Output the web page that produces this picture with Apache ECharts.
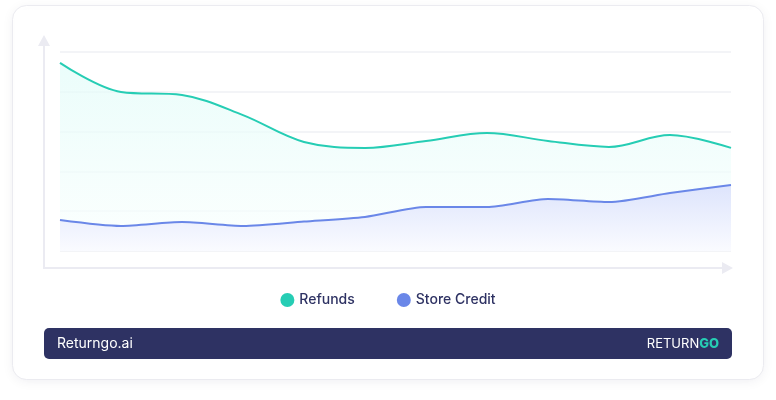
<!DOCTYPE html>
<html>
<head>
<meta charset="utf-8">
<script src="https://cdn.jsdelivr.net/npm/echarts@6/dist/echarts.min.js"></script>
<style>
html,body{margin:0;padding:0;background:#fff;}
#c{width:776px;height:400px;}
</style>
</head>
<body>
<div id="c"></div>
<script>
const categories = ['1','2','3','4','5','6','7','8','9','10','11','12'];
const refunds = [94.5, 79.9, 78.4, 68.3, 54.8, 51.8, 55.3, 59.3, 55.3, 52.3, 58.3, 51.8];
const storeCredit = [15.6, 12.6, 14.6, 12.6, 14.8, 17.1, 22.1, 22.1, 26.1, 24.6, 29.1, 33.2];
const seriesNames = ['Refunds', 'Store Credit'];

const chart = echarts.init(document.getElementById('c'), null, {renderer: 'canvas'});
const FONT = 'Inter, "Noto Sans", sans-serif';
const axisColor = '#ebebf2';

chart.setOption({
  animation: false,
  backgroundColor: '#fff',
  graphic: [
    {type: 'rect', z: -10, shape: {x: 12.5, y: 5.5, width: 751, height: 374, r: 14},
     style: {fill: '#fff', stroke: '#ebebf0', lineWidth: 1, shadowBlur: 12, shadowColor: 'rgba(20,20,60,0.06)', shadowOffsetY: 2}},
    {type: 'line', shape: {x1: 44, y1: 45, x2: 44, y2: 268}, style: {stroke: axisColor, lineWidth: 2}},
    {type: 'polygon', shape: {points: [[44, 35], [50, 46], [38, 46]]}, style: {fill: axisColor}},
    {type: 'line', shape: {x1: 43, y1: 268, x2: 723, y2: 268}, style: {stroke: axisColor, lineWidth: 2}},
    {type: 'polygon', shape: {points: [[733, 268], [722, 262], [722, 274]]}, style: {fill: axisColor}},
    {type: 'rect', shape: {x: 44, y: 328, width: 688, height: 31, r: 5}, style: {fill: '#2e3263'}},
    {type: 'text', x: 57, y: 344, style: {text: 'Returngo.ai', fill: '#ffffff', font: '400 14px ' + FONT, textVerticalAlign: 'middle'}},
    {type: 'text', x: 719, y: 344, style: {text: '{a|RETURN}{b|GO}', align: 'right', verticalAlign: 'middle',
      rich: {a: {fill: '#ffffff', font: '400 13px ' + FONT}, b: {fill: '#26cdb4', font: '800 13px ' + FONT}}}}
  ],
  legend: {
    data: seriesNames,
    top: 288,
    left: 'center',
    icon: 'circle',
    itemWidth: 14,
    itemHeight: 14,
    itemGap: 42,
    textStyle: {color: '#2e3263', fontSize: 14, fontWeight: 500, fontFamily: FONT}
  },
  grid: {left: 60, right: 45, top: 52, bottom: 149, containLabel: false},
  xAxis: {
    type: 'category',
    data: categories,
    boundaryGap: false,
    axisLine: {show: false},
    axisTick: {show: false},
    axisLabel: {show: false},
    splitLine: {show: false}
  },
  yAxis: {
    type: 'value',
    min: 0, max: 100, interval: 20,
    axisLine: {show: false},
    axisTick: {show: false},
    axisLabel: {show: false},
    splitLine: {show: true, lineStyle: {color: '#eff0f5', width: 1.5}}
  },
  series: [
    {
      name: seriesNames[0], type: 'line', data: refunds, smooth: 0.35,
      symbol: 'none', color: '#26cdb4',
      lineStyle: {width: 2, color: '#26cdb4'},
      areaStyle: {color: new echarts.graphic.LinearGradient(0, 0, 0, 1, [
        {offset: 0, color: '#e2fcf9'}, {offset: 1, color: '#fbfffe'}])}
    },
    {
      name: seriesNames[1], type: 'line', data: storeCredit, smooth: 0.25,
      symbol: 'none', color: '#6a87e8',
      lineStyle: {width: 2, color: '#6a87e8'},
      areaStyle: {opacity: 1, color: new echarts.graphic.LinearGradient(0, 0, 0, 1, [
        {offset: 0, color: '#dde4fc'}, {offset: 1, color: '#fafbff'}])}
    }
  ]
});
</script>
</body>
</html>
